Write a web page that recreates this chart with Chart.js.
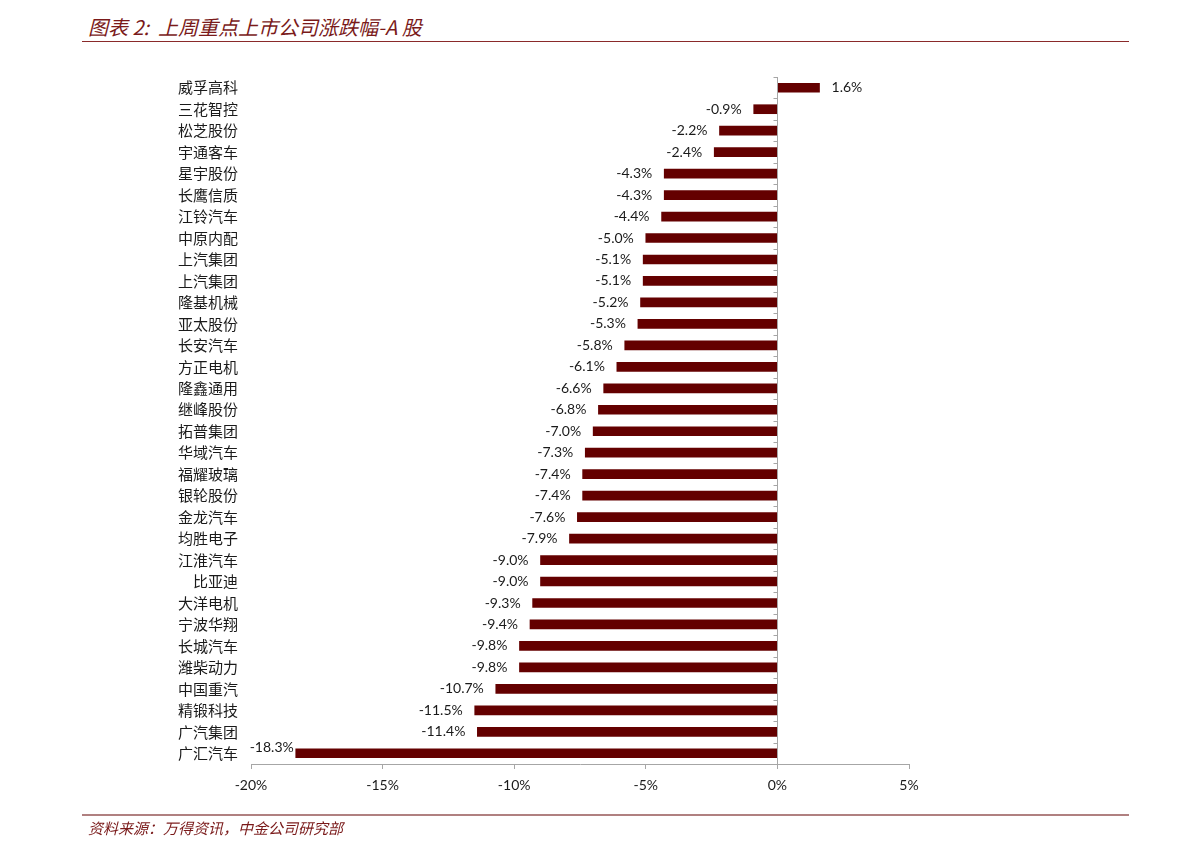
<!DOCTYPE html>
<html>
<head>
<meta charset="utf-8">
<script src="https://cdn.jsdelivr.net/npm/chart.js@4.4.0/dist/chart.umd.min.js"></script>
<style>
    body { margin: 0; background: #fff; }
    #wrap { position: relative; width: 1191px; height: 854px; }
    .title {
        position: absolute; left: 88px; top: 14px;
        font-family: "Noto Sans CJK SC", sans-serif; font-style: italic;
        font-size: 20px; line-height: 26px; color: #7a1a1a;
    }
    .topline { position: absolute; left: 82px; top: 41px; width: 1047px; height: 1px; background: #8a2a2a; }
    .botline { position: absolute; left: 82px; top: 814px; width: 1047px; height: 2px; background: #b08080; }
    .source {
        position: absolute; left: 88px; top: 817px;
        font-family: "Noto Sans CJK SC", sans-serif; font-style: italic;
        font-size: 15px; color: #7a1a1a;
    }
    #myBarChart { position: absolute; left: 0; top: 0; }
</style>
</head>
<body>
<div id="wrap">
    <div class="title">图表 2:&nbsp; 上周重点上市公司涨跌幅-A 股</div>
    <div class="topline"></div>
    <canvas id="myBarChart" width="1191" height="854"></canvas>
    <div class="botline"></div>
    <div class="source">资料来源：万得资讯，中金公司研究部</div>
</div>
<script>
// 公司名称
var companies = ['威孚高科', '三花智控', '松芝股份', '宇通客车', '星宇股份', '长鹰信质', '江铃汽车', '中原内配',
    '上汽集团', '上汽集团', '隆基机械', '亚太股份', '长安汽车', '方正电机', '隆鑫通用', '继峰股份',
    '拓普集团', '华域汽车', '福耀玻璃', '银轮股份', '金龙汽车', '均胜电子', '江淮汽车', '比亚迪',
    '大洋电机', '宁波华翔', '长城汽车', '潍柴动力', '中国重汽', '精锻科技', '广汽集团', '广汇汽车'];

// 涨跌幅 (%)
var changes = [1.6, -0.9, -2.2, -2.4, -4.3, -4.3, -4.4, -5.0,
    -5.1, -5.1, -5.2, -5.3, -5.8, -6.1, -6.6, -6.8,
    -7.0, -7.3, -7.4, -7.4, -7.6, -7.9, -9.0, -9.0,
    -9.3, -9.4, -9.8, -9.8, -10.7, -11.5, -11.4, -18.3];

// 横轴刻度
var xTicks = [-20, -15, -10, -5, 0, 5];

var axisGrey = '#a6a6a6';
var labelFont = '"Lato", "Noto Sans", sans-serif';

// 零轴 + 小刻度
var zeroAxis = {
    id: 'zeroAxis',
    afterDatasetsDraw: function (chart) {
        var c = chart.ctx;
        var xs = chart.scales.x, ys = chart.scales.y;
        var x0 = Math.round(xs.getPixelForValue(0)) + 0.5;
        c.save();
        c.strokeStyle = axisGrey;
        c.lineWidth = 1;
        c.beginPath();
        c.moveTo(x0, ys.top);
        c.lineTo(x0, ys.bottom);
        for (var i = 0; i <= companies.length; i++) {
            var y = Math.round(ys.top + (ys.bottom - ys.top) * i / companies.length) + 0.5;
            c.moveTo(x0 - 4, y);
            c.lineTo(x0, y);
        }
        c.stroke();
        c.restore();
    }
};

// 数据标签
var valueLabels = {
    id: 'valueLabels',
    afterDatasetsDraw: function (chart) {
        var c = chart.ctx;
        var meta = chart.getDatasetMeta(0);
        c.save();
        c.font = '14px ' + labelFont;
        c.fillStyle = '#1a1a1a';
        c.textBaseline = 'middle';
        meta.data.forEach(function (bar, i) {
            var v = changes[i];
            var txt = v.toFixed(1) + '%';
            if (v >= 0) {
                c.textAlign = 'left';
                c.fillText(txt, bar.x + 12, bar.y);
            } else {
                c.textAlign = 'right';
                var y = bar.y;
                if (v < -15) { y = bar.y - 6; }
                c.fillText(txt, bar.x - (v < -15 ? 2 : 12), y);
            }
        });
        c.restore();
    }
};

var ctx = document.getElementById('myBarChart').getContext('2d');
var myBarChart = new Chart(ctx, {
    type: 'bar',
    data: {
        labels: companies,
        datasets: [{
            data: changes,
            backgroundColor: '#640000',
            borderWidth: 0,
            barThickness: 9
        }]
    },
    options: {
        indexAxis: 'y',
        responsive: false,
        animation: false,
        layout: { padding: { left: 0, right: 282, top: 77, bottom: 0 } },
        plugins: {
            legend: { display: false },
            tooltip: { enabled: false }
        },
        scales: {
            x: {
                min: -20,
                max: 5,
                afterBuildTicks: function (scale) {
                    scale.ticks = xTicks.map(function (v) { return { value: v }; });
                },
                afterFit: function (scale) { scale.height = 90; },
                ticks: {
                    color: '#1a1a1a',
                    font: { family: labelFont, size: 14 },
                    padding: 8,
                    callback: function (v) { return v + '%'; }
                },
                grid: {
                    drawOnChartArea: false,
                    tickLength: 5,
                    tickColor: axisGrey
                },
                border: { color: axisGrey }
            },
            y: {
                afterFit: function (scale) { scale.width = 251; },
                ticks: {
                    color: '#1a1a1a',
                    font: { family: '"Noto Sans CJK SC", sans-serif', size: 15 },
                    padding: 5,
                    autoSkip: false
                },
                grid: { display: false },
                border: { display: false }
            }
        }
    },
    plugins: [zeroAxis, valueLabels]
});
</script>
</body>
</html>
